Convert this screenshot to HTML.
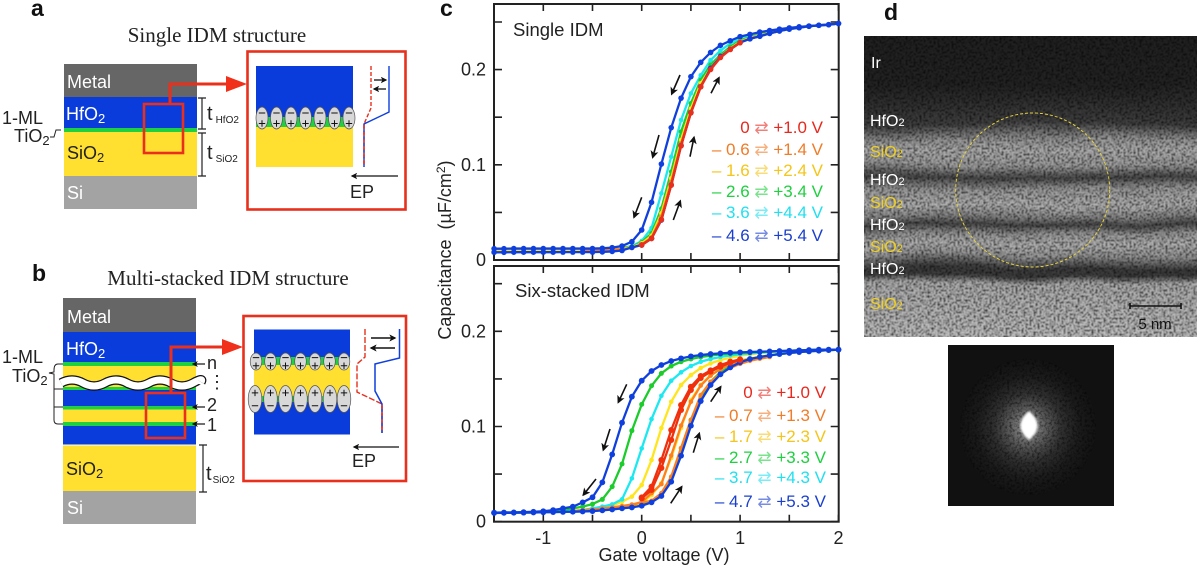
<!DOCTYPE html>
<html><head><meta charset="utf-8"><title>IDM structures and capacitance hysteresis</title>
<style>
html,body{margin:0;padding:0;background:#fff}
svg{display:block}
text{font-family:"Liberation Sans",Arial,sans-serif}
.serif{font-family:"Liberation Serif",serif;font-size:21px;fill:#222}
.pl{font-size:23px;font-weight:bold;fill:#111}
.lay{font-size:18px}
.lg{font-size:17px;text-anchor:end}
.lg tspan{fill-opacity:.6}
.tk{font-size:18px;fill:#222}
.tem{font-size:16px}
</style></head>
<body>
<svg id="fig" width="1200" height="569" viewBox="0 0 1200 569">
<defs>
<marker id="ah" viewBox="0 0 10 10" refX="8" refY="5" markerWidth="5" markerHeight="5" orient="auto-start-reverse"><path d="M0,0L10,5L0,10L2.5,5z" fill="#111"/></marker>
<linearGradient id="temg" gradientUnits="userSpaceOnUse" x1="0" y1="36" x2="0" y2="337">
<stop offset="0" stop-color="#1e1e1e"/><stop offset=".163" stop-color="#202020"/><stop offset=".213" stop-color="#2a2a2a"/><stop offset=".296" stop-color="#3c3c3c"/><stop offset=".346" stop-color="#8c8c8c"/><stop offset=".379" stop-color="#a0a0a0"/><stop offset=".429" stop-color="#909090"/><stop offset=".472" stop-color="#444"/><stop offset=".512" stop-color="#909090"/><stop offset=".561" stop-color="#a4a4a4"/><stop offset=".598" stop-color="#7c7c7c"/><stop offset=".625" stop-color="#444"/><stop offset=".658" stop-color="#8c8c8c"/><stop offset=".694" stop-color="#a4a4a4"/><stop offset=".728" stop-color="#8c8c8c"/><stop offset=".771" stop-color="#383838"/><stop offset=".791" stop-color="#383838"/><stop offset=".817" stop-color="#a0a0a0"/><stop offset="1" stop-color="#b0b0b0"/>
</linearGradient>
<clipPath id="temclip"><rect x="864" y="36" width="333" height="301"/></clipPath>
<filter id="temf" filterUnits="userSpaceOnUse" x="840" y="10" width="380" height="350" color-interpolation-filters="sRGB">
<feTurbulence type="fractalNoise" baseFrequency="0.009 0.02" numOctaves="2" seed="7" result="w"/>
<feDisplacementMap in="SourceGraphic" in2="w" scale="12" yChannelSelector="G" xChannelSelector="R" result="d"/>
<feTurbulence type="fractalNoise" baseFrequency="0.5" numOctaves="1" seed="4" result="n"/>
<feColorMatrix in="n" type="matrix" values="2.6 0 0 0 -0.5 2.6 0 0 0 -0.5 2.6 0 0 0 -0.5 0 0 0 0 1" result="g0"/>
<feGaussianBlur in="g0" stdDeviation="0.45" result="g"/>
<feComposite in="d" in2="g" operator="arithmetic" k1="0.95" k2="0.15" k3="0" k4="0"/>
</filter>
<radialGradient id="halo"><stop offset="0" stop-color="#8a8a8a"/><stop offset=".3" stop-color="#4e4e4e"/><stop offset=".5" stop-color="#2c2c2c"/><stop offset=".75" stop-color="#191919"/><stop offset="1" stop-color="#111"/></radialGradient>
<filter id="halof" x="0" y="0" width="1" height="1" color-interpolation-filters="sRGB">
<feTurbulence type="fractalNoise" baseFrequency="0.4" numOctaves="2" seed="9" result="n"/>
<feColorMatrix in="n" type="matrix" values="2.4 0 0 0 -0.4 2.4 0 0 0 -0.4 2.4 0 0 0 -0.4 0 0 0 0 1" result="g"/>
<feComposite in="SourceGraphic" in2="g" operator="arithmetic" k1="0.6" k2="0.5" k3="0" k4="0"/>
</filter>
<filter id="soft"><feGaussianBlur stdDeviation="1"/></filter>
</defs>

<!-- panel a -->
<g>
<text class="pl" x="31" y="16">a</text>
<text class="serif" x="217" y="42" text-anchor="middle">Single IDM structure</text>
<rect x="64" y="64" width="133" height="33" fill="#666"/>
<rect x="64" y="97" width="133" height="31" fill="#0a3cdc"/>
<rect x="64" y="128" width="133" height="4" fill="#1fd040"/>
<rect x="64" y="132" width="133" height="44" fill="#ffe030"/>
<rect x="64" y="176" width="133" height="33" fill="#a3a3a3"/>
<text class="lay" x="67" y="88" fill="#fff">Metal</text>
<text class="lay" x="66" y="120" fill="#fff">HfO<tspan font-size="13" dy="3">2</tspan></text>
<text class="lay" x="67" y="159" fill="#222">SiO<tspan font-size="13" dy="3">2</tspan></text>
<text class="lay" x="67" y="199" fill="#fff">Si</text>
<text class="lay" x="2" y="124" fill="#222">1-ML</text>
<text class="lay" x="14" y="142" fill="#222">TiO<tspan font-size="13" dy="3">2</tspan></text>
<path d="M50,137h4l2,-7h5" fill="none" stroke="#222" stroke-width="1"/>
<path d="M198,98h8M202,98v31M198,129h8M198,133h8M202,133v43M198,176h8" stroke="#222" stroke-width="1.2" fill="none"/>
<text x="207" y="120" font-size="20" fill="#222">t<tspan font-size="10" dx="3" dy="3">HfO2</tspan></text>
<text x="207" y="159" font-size="20" fill="#222">t<tspan font-size="10" dx="3" dy="3">SiO2</tspan></text>
<rect x="144" y="104" width="39" height="49" fill="none" stroke="#e8301c" stroke-width="2.6"/>
<path d="M170,104V84H227" fill="none" stroke="#e8301c" stroke-width="3"/>
<polygon points="226,76 226,92 247,84" fill="#f0301a"/>
<rect x="247.5" y="51.5" width="158" height="158" fill="#fff" stroke="#e8301c" stroke-width="2.6"/>
<rect x="256" y="66" width="97" height="52" fill="#0a3cdc"/>
<rect x="256" y="117" width="97" height="10" fill="#1fd040"/>
<rect x="256" y="127" width="97" height="40" fill="#ffe030"/>
<g id="dipA"></g>
<path d="M371,66V108L364,124V167" fill="none" stroke="#e8301c" stroke-width="1.4" stroke-dasharray="4 2"/>
<path d="M389,66V112L364,124V167" fill="none" stroke="#0f3fdc" stroke-width="1.4"/>
<path d="M364,125V167" fill="none" stroke="#e8301c" stroke-width="1.4" stroke-dasharray="4 3"/>
<line x1="374" y1="80" x2="386" y2="80" stroke="#111" stroke-width="1.3" marker-end="url(#ah)"/>
<line x1="386" y1="89" x2="374" y2="89" stroke="#111" stroke-width="1.3" marker-end="url(#ah)"/>
<line x1="398" y1="176" x2="352" y2="176" stroke="#111" stroke-width="1.3" marker-end="url(#ah)"/>
<text class="lay" x="350" y="198" fill="#222">EP</text>
</g>

<!-- panel b -->
<g>
<text class="pl" x="32" y="281">b</text>
<text class="serif" x="228" y="285" text-anchor="middle">Multi-stacked IDM structure</text>
<rect x="63" y="298" width="133" height="34" fill="#666"/>
<rect x="63" y="332" width="133" height="30.5" fill="#0a3cdc"/>
<rect x="63" y="362" width="133" height="4" fill="#1fd040"/>
<rect x="63" y="366" width="133" height="21" fill="#ffe030"/>
<rect x="63" y="387" width="133" height="3" fill="#1fd040"/>
<rect x="63" y="390" width="133" height="16" fill="#0a3cdc"/>
<rect x="63" y="406" width="133" height="3.5" fill="#1fd040"/>
<rect x="63" y="409.5" width="133" height="12.5" fill="#ffe030"/>
<rect x="63" y="422" width="133" height="4" fill="#1fd040"/>
<rect x="63" y="426" width="133" height="18.5" fill="#0a3cdc"/>
<rect x="63" y="445.5" width="133" height="45.5" fill="#ffe030"/>
<rect x="63" y="491" width="133" height="33" fill="#a3a3a3"/>
<path d="M61,383q11,-6 22,0t22,0t22,0t22,0t22,0t22,0t8,-1" fill="none" stroke="#111" stroke-width="9.5"/>
<path d="M61,383q11,-6 22,0t22,0t22,0t22,0t22,0t22,0t8,-1" fill="none" stroke="#fff" stroke-width="7"/>
<text class="lay" x="67" y="323" fill="#fff">Metal</text>
<text class="lay" x="66" y="355" fill="#fff">HfO<tspan font-size="13" dy="3">2</tspan></text>
<text class="lay" x="66" y="475" fill="#222">SiO<tspan font-size="13" dy="3">2</tspan></text>
<text class="lay" x="67" y="514" fill="#fff">Si</text>
<text class="lay" x="2" y="363" fill="#222">1-ML</text>
<text class="lay" x="12" y="382" fill="#222">TiO<tspan font-size="13" dy="3">2</tspan></text>
<path d="M63,364H58Q54,364 54,370V372L49,373L54,374V420Q54,424 58,424H63M54,407H63M54,389H63" fill="none" stroke="#222" stroke-width="1"/>
<text class="lay" x="207" y="369" fill="#222">n</text>
<text class="lay" x="207" y="411" fill="#222">2</text>
<text class="lay" x="207" y="431" fill="#222">1</text>
<text class="lay" x="208" y="388" fill="#222">⋮</text>
<line x1="205" y1="364" x2="193" y2="364" stroke="#111" stroke-width="1.2" marker-end="url(#ah)"/>
<line x1="205" y1="407" x2="193" y2="407" stroke="#111" stroke-width="1.2" marker-end="url(#ah)"/>
<line x1="205" y1="424" x2="193" y2="424" stroke="#111" stroke-width="1.2" marker-end="url(#ah)"/>
<path d="M199,445h8M203,445v47M199,492h8" stroke="#222" stroke-width="1.2" fill="none"/>
<text x="206" y="480" font-size="20" fill="#222">t<tspan font-size="10" dx="1" dy="3">SiO2</tspan></text>
<rect x="146" y="393" width="39" height="45" fill="none" stroke="#e8301c" stroke-width="2.6"/>
<path d="M171,393V347H223" fill="none" stroke="#e8301c" stroke-width="3"/>
<polygon points="222,339 222,355 243,347" fill="#f0301a"/>
<rect x="243.5" y="316" width="162.5" height="165" fill="#fff" stroke="#e8301c" stroke-width="2.6"/>
<rect x="254" y="329.5" width="96" height="28" fill="#0a3cdc"/>
<rect x="254" y="357" width="96" height="8" fill="#1fd040"/>
<rect x="254" y="365" width="96" height="31" fill="#ffe030"/>
<rect x="254" y="396" width="96" height="6" fill="#1fd040"/>
<rect x="254" y="402" width="96" height="32.5" fill="#0a3cdc"/>
<g id="dipB"></g>
<path d="M365,329V357L357,364V392L382,404V433" fill="none" stroke="#e8301c" stroke-width="1.4" stroke-dasharray="6 2"/>
<path d="M399.5,329V358L375,364V391L382,404V433" fill="none" stroke="#0f3fdc" stroke-width="1.5"/>
<path d="M382,405V433" fill="none" stroke="#e8301c" stroke-width="1.4" stroke-dasharray="4 3"/>
<line x1="371" y1="338" x2="395" y2="338" stroke="#111" stroke-width="1.4" marker-end="url(#ah)"/>
<line x1="395" y1="348" x2="371" y2="348" stroke="#111" stroke-width="1.4" marker-end="url(#ah)"/>
<line x1="399" y1="447" x2="354" y2="447" stroke="#111" stroke-width="1.3" marker-end="url(#ah)"/>
<text class="lay" x="352" y="467" fill="#222">EP</text>
</g>

<!-- panel c -->
<g>
<text class="pl" x="440" y="16">c</text>
<text x="451" y="250" class="tk" transform="rotate(-90 451 250)" text-anchor="middle">Capacitance&#160;&#160;(µF/cm<tspan font-size="12" dy="-6">2</tspan><tspan dy="6">)</tspan></text>
<text x="664" y="561" class="tk" text-anchor="middle">Gate voltage (V)</text>
<g id="plotTop"></g>
<g id="plotBot"></g>
<text x="513" y="36" font-size="18.5" fill="#222">Single IDM</text>
<text x="515" y="297" font-size="18.5" fill="#222">Six-stacked IDM</text>
<g stroke="#111" stroke-width="1.6">
<line x1="680" y1="75" x2="671.7" y2="94" marker-end="url(#ah)"/><line x1="659" y1="135" x2="652.7" y2="157.3" marker-end="url(#ah)"/><line x1="641.7" y1="197.3" x2="634" y2="217.3" marker-end="url(#ah)"/>
<line x1="711" y1="93.3" x2="719" y2="77.7" marker-end="url(#ah)"/><line x1="690" y1="156.7" x2="694" y2="137.3" marker-end="url(#ah)"/><line x1="673.3" y1="220" x2="680.3" y2="201" marker-end="url(#ah)"/>
</g>
<g stroke="#111" stroke-width="1.6">
<line x1="626.7" y1="384.3" x2="618.3" y2="402.3" marker-end="url(#ah)"/><line x1="610" y1="429" x2="603.3" y2="450" marker-end="url(#ah)"/><line x1="596" y1="479" x2="583.3" y2="495" marker-end="url(#ah)"/>
<line x1="710.7" y1="401.7" x2="720.7" y2="386.7" marker-end="url(#ah)"/><line x1="693.3" y1="452.7" x2="699.3" y2="433.3" marker-end="url(#ah)"/><line x1="670.7" y1="503.3" x2="681.7" y2="486.7" marker-end="url(#ah)"/>
</g>
<g>
<text class="lg" x="823" y="133" fill="#e8281e">0 <tspan>⇄</tspan> +1.0 V</text>
<text class="lg" x="823" y="155" fill="#f07c28">– 0.6 <tspan>⇄</tspan> +1.4 V</text>
<text class="lg" x="823" y="176" fill="#f5c518">– 1.6 <tspan>⇄</tspan> +2.4 V</text>
<text class="lg" x="823" y="197" fill="#1fd040">– 2.6 <tspan>⇄</tspan> +3.4 V</text>
<text class="lg" x="823" y="218" fill="#20e0f0">– 3.6 <tspan>⇄</tspan> +4.4 V</text>
<text class="lg" x="823" y="241" fill="#1a3fd0">– 4.6 <tspan>⇄</tspan> +5.4 V</text>
</g>
<g>
<text class="lg" x="826" y="398" fill="#e8281e">0 <tspan>⇄</tspan> +1.0 V</text>
<text class="lg" x="826" y="421" fill="#f07c28">– 0.7 <tspan>⇄</tspan> +1.3 V</text>
<text class="lg" x="826" y="442" fill="#f5c518">– 1.7 <tspan>⇄</tspan> +2.3 V</text>
<text class="lg" x="826" y="463" fill="#1fd040">– 2.7 <tspan>⇄</tspan> +3.3 V</text>
<text class="lg" x="826" y="483" fill="#20e0f0">– 3.7 <tspan>⇄</tspan> +4.3 V</text>
<text class="lg" x="826" y="507" fill="#1a3fd0">– 4.7 <tspan>⇄</tspan> +5.3 V</text>
</g>
</g>

<!-- panel d -->
<g>
<text class="pl" x="884" y="20">d</text>
<g clip-path="url(#temclip)">
<rect x="840" y="10" width="380" height="350" fill="url(#temg)" filter="url(#temf)"/>
</g>
<circle cx="1032.7" cy="190" r="77" fill="none" stroke="#e5d040" stroke-width="1" stroke-dasharray="3 2"/>
<text class="tem" x="871" y="68" fill="#fff">Ir</text>
<text class="tem" x="870" y="126" fill="#fff">HfO<tspan font-size="11">2</tspan></text>
<text class="tem" x="870" y="157" fill="#f0d020">SiO<tspan font-size="11">2</tspan></text>
<text class="tem" x="870" y="185" fill="#fff">HfO<tspan font-size="11">2</tspan></text>
<text class="tem" x="870" y="208" fill="#f0d020">SiO<tspan font-size="11">2</tspan></text>
<text class="tem" x="870" y="230" fill="#fff">HfO<tspan font-size="11">2</tspan></text>
<text class="tem" x="870" y="252" fill="#f0d020">SiO<tspan font-size="11">2</tspan></text>
<text class="tem" x="870" y="274" fill="#fff">HfO<tspan font-size="11">2</tspan></text>
<text class="tem" x="870" y="309" fill="#f0d020">SiO<tspan font-size="11">2</tspan></text>
<path d="M1130,303v6M1130,306H1181M1181,303v6" stroke="#111" stroke-width="1.6" fill="none"/>
<text x="1155" y="329" font-size="15" fill="#111" text-anchor="middle">5 nm</text>
<rect x="948" y="345" width="166" height="161" fill="#111"/>
<circle cx="1028" cy="427" r="68" fill="url(#halo)" filter="url(#halof)"/>
<path d="M1029,411Q1046,426 1029,440Q1012,426 1029,411z" fill="#fff" filter="url(#soft)"/>
</g>
</svg>
<script>
// X grid
const voltageStep = 0.1;
const fullSweepStart = -1.5;
const singleOrangeStart = -0.6;
const stackedOrangeStart = -0.7;
const redStart = 0;
const xTickValues = [-1.5, -1, -0.5, 0, 0.5, 1, 1.5, 2];
const xTickLabels = ["-1", "0", "1", "2"];
const xLabelValues = [-1, 0, 1, 2];
const yTickValues = [0, 0.05, 0.1, 0.15, 0.2, 0.25];
const yLabelValues = [0, 0.1, 0.2];
const yTickLabels = ["0", "0.1", "0.2"];

// Single IDM capacitance (uF/cm2)
const singleBlueDown = [.0119,.0119,.012,.012,.012,.012,.012,.012,.012,.012,.012,.0123,.013,.0147,.0192,.0315,.0606,.1008,.139,.170,.1926,.2076,.218,.2255,.2303,.2346,.237,.2394,.241,.2425,.2438,.2449,.2457,.2465,.2472,.2484];
const singleBlueUp = [.0081,.0081,.0082,.0082,.0082,.0082,.0082,.0083,.0083,.0083,.0083,.0085,.009,.01,.0133,.0157,.0227,.042,.0788,.1201,.1548,.1821,.2014,.2137,.2214,.2284,.2323,.235,.238,.2405,.2425,.244,.2455,.2465,.2472,.2484];
const singleCyanDown = [.0115,.0115,.0115,.0115,.0115,.0115,.0115,.0115,.0115,.0115,.0115,.012,.0125,.013,.0145,.02,.0335,.07,.1085,.147,.175,.194,.21,.22,.2275,.232,.2345,.237,.2395,.2415,.243,.2445,.2455,.2465,.2472,.2484];
const singleCyanUp = [.0085,.0085,.0085,.0085,.0085,.0085,.0085,.0085,.0085,.0085,.0085,.0087,.0092,.0102,.0135,.016,.023,.043,.08,.122,.157,.184,.203,.215,.2225,.229,.233,.2355,.2385,.241,.243,.2445,.2455,.2465,.2472,.2484];
const singleGreenDown = [.011,.011,.011,.011,.011,.011,.011,.011,.011,.011,.0112,.0115,.012,.0125,.014,.0185,.028,.054,.0928,.1348,.1646,.189,.205,.2153,.224,.2304,.234,.2365,.239,.241,.243,.2445,.2455,.2465,.2472,.2484];
const singleGreenUp = [.009,.009,.009,.009,.009,.009,.009,.009,.009,.009,.009,.0092,.0097,.0105,.0135,.016,.023,.0425,.0795,.121,.156,.183,.2025,.2145,.222,.2285,.2325,.235,.238,.2405,.2425,.244,.2455,.2465,.2472,.2484];
const singleYellowDown = [.0105,.0105,.0105,.0105,.0105,.0105,.0105,.0105,.0105,.0105,.0107,.011,.0115,.012,.0135,.0175,.0255,.049,.0858,.126,.159,.1856,.2014,.2136,.2223,.2293,.2335,.236,.2385,.2408,.2428,.2443,.2455,.2465,.2472,.2484];
const singleYellowUp = [.0092,.0092,.0092,.0092,.0092,.0092,.0092,.0092,.0092,.0092,.0094,.0096,.01,.0108,.0132,.016,.0228,.0425,.079,.1205,.155,.182,.2018,.214,.2216,.2285,.2325,.235,.238,.2405,.2425,.244,.2455,.2465,.2472,.2484];
const singleOrangeDown = [.0105,.0105,.0107,.011,.0114,.0125,.0165,.0235,.0455,.082,.1225,.1558,.1827,.2003,.2129,.2213,.2286,.233,.2355,.238,.2405];
const singleOrangeUp = [.0098,.0098,.01,.0104,.011,.013,.0158,.0228,.0425,.079,.1203,.155,.1822,.2005,.213,.2214,.2284,.2325,.235,.238,.2405];
const singleRedDown = [.0158,.0227,.0427,.0788,.1201,.1548,.1821,.2003,.2129,.2213,.2283];
const singleRedUp = [.0156,.0225,.0423,.0785,.1198,.1545,.1818,.2,.2126,.221,.2283];

// Six-stacked IDM capacitance (uF/cm2)
const stackedBlueDown = [.0095,.0096,.0098,.01,.0104,.011,.0122,.014,.0158,.0203,.0256,.0413,.0707,.104,.1313,.1481,.1583,.1646,.1688,.1716,.1737,.1751,.1761,.1768,.1775,.1779,.1782,.1786,.1789,.1793,.1796,.18,.1803,.1807,.1807,.1807];
const stackedBlueUp = [.0092,.0093,.0094,.0095,.0097,.0099,.0101,.0103,.0105,.0108,.0112,.0119,.0129,.014,.015,.0168,.0203,.027,.042,.0693,.1008,.1267,.1436,.1548,.1621,.1674,.1709,.173,.1747,.1761,.1772,.1782,.1789,.1796,.1803,.1807];
const stackedCyanDown = [.0094,.0095,.0096,.0097,.0099,.0101,.0104,.0108,.0112,.0123,.014,.0158,.0182,.0235,.0455,.077,.1078,.1323,.1481,.1569,.1635,.168,.1709,.173,.1747,.1758,.1768,.1776,.1783,.1789,.1795,.18,.1803,.1806,.1807,.1807];
const stackedCyanUp = [.0093,.0094,.0095,.0096,.0097,.0099,.0102,.0104,.0106,.0109,.0113,.012,.013,.0142,.0153,.0172,.0208,.028,.044,.074,.105,.1295,.1455,.156,.1628,.1678,.171,.173,.1747,.1761,.1772,.1782,.1789,.1796,.1803,.1807];
const stackedGreenDown = [.0095,.0096,.0097,.0098,.01,.0105,.0112,.0123,.014,.0158,.0185,.0234,.0368,.0606,.0956,.1232,.1428,.1558,.1635,.168,.1709,.173,.1744,.1758,.1765,.1772,.1778,.1783,.1788,.1792,.1796,.18,.1803,.1806,.1807,.1807];
const stackedGreenUp = [.0093,.0094,.0095,.0096,.0097,.0099,.0102,.0104,.0107,.011,.0114,.0122,.0132,.0145,.0155,.0175,.021,.029,.046,.077,.107,.131,.147,.157,.1632,.168,.171,.173,.1747,.1761,.1772,.1782,.1789,.1796,.1803,.1807];
const stackedYellowDown = [.0094,.0095,.0096,.0097,.0099,.0101,.0104,.0108,.0113,.012,.013,.014,.0168,.021,.0263,.0385,.0648,.0984,.126,.1436,.154,.1614,.1663,.1698,.1723,.1744,.1758,.177,.178,.1788,.1795,.18,.1803,.1806,.1807,.1807];
const stackedYellowUp = [.0093,.0094,.0095,.0096,.0097,.0099,.0102,.0105,.0108,.0112,.0118,.0126,.0138,.0152,.0172,.0195,.028,.0406,.0669,.0984,.1278,.1436,.154,.1605,.1655,.1695,.1715,.1733,.1748,.1761,.1772,.1782,.1789,.1796,.1803,.1807];
const stackedOrangeDown = [.0114,.012,.0128,.0138,.015,.0165,.018,.0205,.03,.0395,.0695,.101,.126,.143,.1535,.1604,.1653,.1688,.1709,.173,.1746];
const stackedOrangeUp = [.0108,.0113,.012,.013,.0142,.0158,.0175,.0202,.022,.03,.0473,.0774,.1068,.133,.147,.1555,.1615,.1658,.169,.1712,.173];
const stackedRedDown = [.0256,.0368,.0648,.0963,.1226,.1418,.153,.159,.1646,.1681,.1705];
const stackedRedUp = [.0245,.0333,.0564,.0858,.1173,.1383,.151,.1576,.1628,.167,.1698];

// Geometry of the axes
const plotLeft = 494, plotRight = 838.7;
const topPanel = {group: 'plotTop', top: 4, bottom: 260, name: 'single-idm'};
const botPanel = {group: 'plotBot', top: 266, bottom: 521.7, name: 'six-stacked-idm'};
const NS = 'http://www.w3.org/2000/svg';
function xScale(v) { return 641.7 + (v * 98.4); }
function yScale(panel, c) { return panel.bottom - c * 952; }
function make(tag, parent, attrs) {
  const el = document.createElementNS(NS, tag);
  for (const k in attrs) el.setAttribute(k, attrs[k]);
  parent.appendChild(el);
  return el;
}
function drawSeries(panel, values, start, color, radius, label) {
  const g = document.getElementById(panel.group);
  const pts = values.map((c, i) => [xScale(start + i * voltageStep), yScale(panel, c)]);
  const line = make('polyline', g, {points: pts.map(p => p[0].toFixed(2) + ',' + p[1].toFixed(2)).join(' '), fill: 'none', stroke: color, 'stroke-width': 2.3});
  
  
  pts.forEach(p => {
    const dot = make('circle', g, {cx: p[0].toFixed(2), cy: p[1].toFixed(2), r: radius, fill: color});
    
    
  });
}
function drawAxes(panel) {
  const g = document.getElementById(panel.group);
  const frame = make('rect', g, {x: plotLeft, y: panel.top, width: plotRight - plotLeft, height: panel.bottom - panel.top, fill: 'none', stroke: '#222', 'stroke-width': 2});
  
  
  xTickValues.forEach(v => {
    const t = make('path', g, {d: 'M' + xScale(v) + ',' + panel.top + 'v7M' + xScale(v) + ',' + panel.bottom + 'v-7', stroke: '#222', 'stroke-width': 1.6});
    
    
  });
  yTickValues.forEach(c => {
    const y = yScale(panel, c);
    const t = make('path', g, {d: 'M' + plotLeft + ',' + y + 'h8M' + plotRight + ',' + y + 'h-8', stroke: '#222', 'stroke-width': 1.6});
    
    
  });
  yLabelValues.forEach((c, i) => {
    const t = make('text', g, {x: 486, y: yScale(panel, c) + 6, 'text-anchor': 'end', class: 'tk'});
    t.textContent = yTickLabels[i];
    
    
  });
}
// Upper panel
drawAxes(topPanel);
drawSeries(topPanel, singleCyanDown, fullSweepStart, '#1ce8f0', 2.3, 'cyan-down');
drawSeries(topPanel, singleCyanUp, fullSweepStart, '#1ce8f0', 2.3, 'cyan-up');
drawSeries(topPanel, singleGreenDown, fullSweepStart, '#1ccb2c', 2.3, 'green-down');
drawSeries(topPanel, singleGreenUp, fullSweepStart, '#1ccb2c', 2.3, 'green-up');
drawSeries(topPanel, singleYellowDown, fullSweepStart, '#ffe51c', 2.3, 'yellow-down');
drawSeries(topPanel, singleYellowUp, fullSweepStart, '#ffe51c', 2.3, 'yellow-up');
drawSeries(topPanel, singleOrangeDown, singleOrangeStart, '#ff7f1c', 2.3, 'orange-down');
drawSeries(topPanel, singleOrangeUp, singleOrangeStart, '#ff7f1c', 2.3, 'orange-up');
drawSeries(topPanel, singleBlueUp, fullSweepStart, '#0f3fdc', 2.8, 'blue-up');
drawSeries(topPanel, singleBlueDown, fullSweepStart, '#0f3fdc', 2.8, 'blue-down');
drawSeries(topPanel, singleRedDown, redStart, '#e8301c', 2.7, 'red-down');
drawSeries(topPanel, singleRedUp, redStart, '#e8301c', 2.7, 'red-up');
// Lower panel
drawAxes(botPanel);
drawSeries(botPanel, stackedCyanUp, fullSweepStart, '#1ce8f0', 2.3, 'cyan-up');
drawSeries(botPanel, stackedGreenUp, fullSweepStart, '#1ccb2c', 2.3, 'green-up');
drawSeries(botPanel, stackedYellowUp, fullSweepStart, '#ffe51c', 2.3, 'yellow-up');
drawSeries(botPanel, stackedYellowDown, fullSweepStart, '#ffe51c', 2.3, 'yellow-down');
drawSeries(botPanel, stackedCyanDown, fullSweepStart, '#1ce8f0', 2.3, 'cyan-down');
drawSeries(botPanel, stackedGreenDown, fullSweepStart, '#1ccb2c', 2.5, 'green-down');
drawSeries(botPanel, stackedOrangeDown, stackedOrangeStart, '#ff7f1c', 2.3, 'orange-down');
drawSeries(botPanel, stackedOrangeUp, stackedOrangeStart, '#ff7f1c', 2.3, 'orange-up');
drawSeries(botPanel, stackedBlueUp, fullSweepStart, '#0f3fdc', 2.9, 'blue-up');
drawSeries(botPanel, stackedBlueDown, fullSweepStart, '#0f3fdc', 2.9, 'blue-down');
drawSeries(botPanel, stackedRedDown, redStart, '#f0300c', 3, 'red-down');
drawSeries(botPanel, stackedRedUp, redStart, '#f0300c', 3, 'red-up');
xLabelValues.forEach((v, i) => {
  const t = make('text', document.getElementById('plotBot'), {x: xScale(v), y: 544, 'text-anchor': 'middle', class: 'tk'});
  t.textContent = xTickLabels[i];
  
  
});

// Dipoles in the schematic insets
function dipole(parent, cx, cy, rx, ry, topSign, bottomSign) {
  const g = make('g', parent, {});
  
  
  make('ellipse', g, {cx: cx, cy: cy, rx: rx, ry: ry, fill: '#d8d8d8', stroke: '#555', 'stroke-width': .7});
  const s = 3.2;
  const y1 = cy - ry * .45, y2 = cy + ry * .5;
  make('path', g, {d: 'M' + (cx - s) + ',' + y1 + 'h' + 2 * s + (topSign ? 'M' + cx + ',' + (y1 - s) + 'v' + 2 * s : '') + 'M' + (cx - s) + ',' + y2 + 'h' + 2 * s + (bottomSign ? 'M' + cx + ',' + (y2 - s) + 'v' + 2 * s : ''), stroke: '#111', 'stroke-width': 1, fill: 'none'});
}
const dipA = document.getElementById('dipA');
[262, 276.5, 291, 305.5, 320, 334.5, 349].forEach(cx => dipole(dipA, cx, 118, 6, 11, false, true));
const dipB = document.getElementById('dipB');
[255.5, 270, 285, 300, 314.5, 329, 343.5].forEach(cx => dipole(dipB, cx + 0.5, 361.5, 5.8, 8.5, false, true));
[255, 270.5, 285.5, 300.5, 315, 330, 344].forEach(cx => dipole(dipB, cx, 399, 6.8, 13.5, true, false));
</script>
</body></html>
